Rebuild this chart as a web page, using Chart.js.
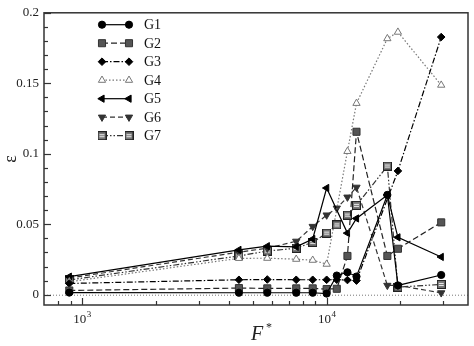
<!DOCTYPE html>
<html>
<head>
<meta charset="utf-8">
<script src="https://cdn.jsdelivr.net/npm/chart.js@4.4.0/dist/chart.umd.min.js"></script>
<style>
  body { margin: 0; background: #fff; }
  canvas { display: block; }
</style>
</head>
<body>
<canvas id="epsChart" width="474" height="346"></canvas>
<script>
/* =====================================================
   DATA : epsilon against F* for the seven groups
===================================================== */

const fStar = [888, 4380, 5720, 7510, 8770, 10000, 11000, 12160, 13240, 17700, 19550, 29380];

const g1 = [0.0015, 0.0014, 0.0014, 0.0014, 0.0014, 0.0008, 0.0136, 0.0159, 0.0129, 0.0708, 0.0066, 0.0140];
const g2 = [0.0030, 0.0047, 0.0045, 0.0045, 0.0045, 0.0040, 0.0042, 0.0275, 0.1156, 0.0275, 0.0326, 0.0513];
const g3 = [0.0080, 0.0106, 0.0108, 0.0106, 0.0106, 0.0106, 0.0106, 0.0104, 0.0100, null, 0.0878, 0.1828];
const g4 = [0.0092, 0.0258, 0.0259, 0.0252, 0.0245, 0.0217, null, 0.1017, 0.1358, 0.1817, 0.1863, 0.1487];
const g5 = [0.0128, 0.0318, 0.0344, 0.0340, 0.0395, 0.0757, null, 0.0437, 0.0541, 0.0708, 0.0407, 0.0268];
const g6 = [0.0118, 0.0302, 0.0330, 0.0379, 0.0484, 0.0565, 0.0614, 0.0692, 0.0762, 0.0066, 0.0066, 0.0013];
const g7 = [0.0105, 0.0275, 0.0310, 0.0330, 0.0372, 0.0437, 0.0495, 0.0565, 0.0634, 0.0913, 0.0054, 0.0073];

const groupNames = ["G1", "G2", "G3", "G4", "G5", "G6", "G7"];
const groupValues = [g1, g2, g3, g4, g5, g6, g7];

// axis ticks
const xTicks = [800, 900, 1000, 2000, 3000, 4000, 5000, 6000, 7000, 8000, 9000, 10000, 20000, 30000];
const xDecades = [1000, 10000];
const yTicks = [0, 0.01, 0.02, 0.03, 0.04, 0.05, 0.06, 0.07, 0.08, 0.09, 0.1,
                0.11, 0.12, 0.13, 0.14, 0.15, 0.16, 0.17, 0.18, 0.19, 0.2];
const yLabelled = [0, 0.05, 0.1, 0.15, 0.2];


/* =====================================================
   MARKER FOR G7 (SQUARE WITH BARS)
===================================================== */

function barredSquare() {
  const c = document.createElement("canvas");
  c.width = 9; c.height = 9;
  const m = c.getContext("2d");
  m.fillStyle = "#777";
  m.fillRect(0.5, 0.5, 8, 8);
  m.strokeStyle = "#222";
  m.lineWidth = 1;
  m.strokeRect(0.5, 0.5, 8, 8);
  m.fillStyle = "#eee";
  m.fillRect(2, 3, 5, 1);
  m.fillRect(2, 5, 5, 1);
  return c;
}

const looks = [
  { line: "#000", dash: [],                    shape: "circle",   radius: 3.6, rot: 0,   fill: "#000", edge: "#000" },
  { line: "#222", dash: [6, 3],                shape: "rect",     radius: 5,   rot: 0,   fill: "#555", edge: "#333" },
  { line: "#000", dash: [6, 2, 1.5, 2],        shape: "rectRot",  radius: 3.8, rot: 0,   fill: "#000", edge: "#000" },
  { line: "#777", dash: [1.5, 2],              shape: "triangle", radius: 4.2, rot: 0,   fill: "#fff", edge: "#777" },
  { line: "#000", dash: [],                    shape: "triangle", radius: 4.2, rot: -90, fill: "#000", edge: "#000" },
  { line: "#333", dash: [5, 3],                shape: "triangle", radius: 4.2, rot: 180, fill: "#333", edge: "#333" },
  { line: "#333", dash: [6, 2, 1.5, 2, 1.5, 2], shape: barredSquare(), radius: 4.5, rot: 0, fill: "#777", edge: "#222" }
];

const datasets = groupNames.map((name, i) => ({
  label: name,
  data: fStar.map((f, k) => ({ x: f, y: groupValues[i][k] })).filter(p => p.y !== null),
  borderColor: looks[i].line,
  borderWidth: 1.2,
  borderDash: looks[i].dash,
  pointStyle: looks[i].shape,
  pointRadius: looks[i].radius,
  pointRotation: looks[i].rot,
  pointBackgroundColor: looks[i].fill,
  pointBorderColor: looks[i].edge,
  pointBorderWidth: 1,
  tension: 0,
  fill: false
}));


/* =====================================================
   FRAME, INWARD TICKS, ZERO LINE, LABELS, LEGEND
===================================================== */

const serif = '"Liberation Serif", "DejaVu Serif", serif';

const framePlugin = {
  id: "frame",
  beforeDatasetsDraw(chart) {
    const { ctx, chartArea: a, scales: { y } } = chart;
    const y0 = y.getPixelForValue(0);
    ctx.save();
    ctx.strokeStyle = "#777";
    ctx.lineWidth = 1;
    ctx.setLineDash([1, 2]);
    ctx.beginPath();
    ctx.moveTo(a.left, y0 + 0.5);
    ctx.lineTo(a.right, y0 + 0.5);
    ctx.stroke();
    ctx.restore();
  },
  afterDraw(chart) {
    const { ctx, chartArea: a, scales: { x, y } } = chart;
    ctx.save();
    ctx.strokeStyle = "#333";
    ctx.lineWidth = 1.5;
    ctx.strokeRect(a.left, a.top, a.right - a.left, a.bottom - a.top);

    // y ticks, pointing into the plot
    ctx.lineWidth = 1.2;
    yTicks.forEach(v => {
      const py = Math.round(y.getPixelForValue(v)) + 0.5;
      const len = yLabelled.includes(v) ? 7 : 4;
      ctx.beginPath();
      ctx.moveTo(a.left, py);
      ctx.lineTo(a.left + len, py);
      ctx.stroke();
    });

    // x ticks, pointing up
    xTicks.forEach(v => {
      const px = Math.round(x.getPixelForValue(v)) + 0.5;
      const len = xDecades.includes(v) ? 7 : 4;
      ctx.beginPath();
      ctx.moveTo(px, a.bottom);
      ctx.lineTo(px, a.bottom - len);
      ctx.stroke();
    });

    // decade labels 10^n
    ctx.fillStyle = "#222";
    ctx.textBaseline = "alphabetic";
    xDecades.forEach(v => {
      const px = x.getPixelForValue(v);
      const exp = String(Math.round(Math.log10(v)));
      ctx.font = "13px " + serif;
      const wBase = ctx.measureText("10").width;
      ctx.font = "9px " + serif;
      const wExp = ctx.measureText(exp).width;
      const left = px - (wBase + wExp) / 2;
      ctx.font = "13px " + serif;
      ctx.textAlign = "left";
      ctx.fillText("10", left, a.bottom + 18);
      ctx.font = "9px " + serif;
      ctx.fillText(exp, left + wBase + 0.5, a.bottom + 12);
    });

    // axis name F*
    ctx.font = "italic 20px " + serif;
    ctx.textAlign = "center";
    ctx.fillText("F", 257, 340);
    ctx.font = "12px " + serif;
    ctx.fillText("*", 269, 331);

    // legend
    chart.data.datasets.forEach((ds, i) => {
      const ly = 24.7 + i * 18.5;
      ctx.strokeStyle = ds.borderColor;
      ctx.lineWidth = ds.borderWidth;
      ctx.setLineDash(ds.borderDash);
      ctx.beginPath();
      ctx.moveTo(102, ly);
      ctx.lineTo(129, ly);
      ctx.stroke();
      ctx.setLineDash([]);
      ctx.fillStyle = ds.pointBackgroundColor;
      ctx.strokeStyle = ds.pointBorderColor;
      ctx.lineWidth = 1;
      [102, 129].forEach(px => {
        Chart.helpers.drawPoint(ctx, {
          pointStyle: ds.pointStyle,
          radius: ds.pointRadius,
          rotation: ds.pointRotation,
          borderWidth: 1
        }, px, ly);
      });
      ctx.fillStyle = "#111";
      ctx.font = "14px " + serif;
      ctx.textAlign = "left";
      ctx.textBaseline = "middle";
      ctx.fillText(ds.label, 144, ly + 1);
    });
    ctx.restore();
  }
};


/* =====================================================
   CHART
===================================================== */

new Chart(document.getElementById("epsChart"), {
  type: "line",
  data: { datasets: datasets },
  plugins: [framePlugin],
  options: {
    responsive: false,
    animation: false,
    layout: { padding: { top: 7, right: 5, left: 0, bottom: 0 } },
    plugins: {
      legend: { display: false },
      tooltip: { enabled: false }
    },
    scales: {
      x: {
        type: "logarithmic",
        min: 700,
        max: 37800,
        grid: { display: false },
        border: { display: false },
        ticks: { display: false },
        afterBuildTicks: scale => { scale.ticks = xTicks.map(v => ({ value: v })); },
        afterFit: scale => { scale.height = 41; }
      },
      y: {
        type: "linear",
        min: -0.0073,
        max: 0.2,
        grid: { display: false, drawTicks: false },
        border: { display: false },
        afterBuildTicks: scale => { scale.ticks = yTicks.map(v => ({ value: v })); },
        afterFit: scale => { scale.width = 44; },
        ticks: {
          autoSkip: false,
          padding: 5,
          color: "#222",
          font: { family: serif, size: 13 },
          callback: v => yLabelled.includes(v) ? String(v) : ""
        },
        title: {
          display: true,
          text: "ε",
          color: "#222",
          padding: 0,
          font: { family: serif, size: 18 }
        }
      }
    }
  }
});
</script>
</body>
</html>
